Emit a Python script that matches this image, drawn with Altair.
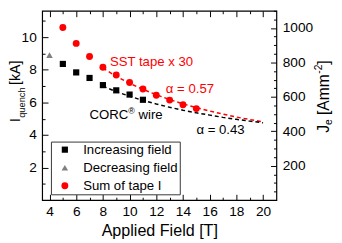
import altair as alt
import pandas as pd

FONT = "Liberation Sans"

# ---- data ----
field_inc = [5, 6, 7, 8, 9, 10, 11]
iq_inc = [8.36, 7.84, 7.50, 7.06, 6.74, 6.48, 6.16]

field_dec = [4]
iq_dec = [8.90]

field_sum = [5, 6, 7, 8, 9, 10, 11, 12, 13, 14, 15]
iq_sum = [10.60, 9.62, 8.82, 8.16, 7.68, 7.22, 6.82, 6.44, 6.14, 5.86, 5.62]

fit_field = [8, 9, 10, 11, 12, 13, 14, 15, 16, 17, 18, 19, 20]
fit_sst = [8.10, 7.60, 7.17, 6.80, 6.47, 6.17, 5.91, 5.68, 5.47, 5.28, 5.10, 4.95, 4.80]
fit_corc = [7.00, 6.66, 6.38, 6.12, 5.90, 5.70, 5.52, 5.36, 5.22, 5.08, 4.96, 4.85, 4.75]

series_names = ["Increasing field", "Decreasing field", "Sum of tape I"]
series_colors = ["#000000", "#808080", "#ff0000"]
series_shapes = ["square", "triangle-up", "circle"]

x_major = [4, 6, 8, 10, 12, 14, 16, 18, 20]
x_minor = [5, 7, 9, 11, 13, 15, 17, 19]
y_major = [2, 4, 6, 8, 10]
y_minor = [1, 3, 5, 7, 9, 11]
je_major = [200, 400, 600, 800, 1000]
je_minor = [50, 100, 150, 250, 300, 350, 450, 500, 550, 650, 700, 750, 850, 900, 950, 1050, 1100]

x_domain = [3.45, 21.0]
y_domain = [0, 11.62]
je_domain = [0, 1100]

W, H = 240, 194

pts = pd.DataFrame({
    "B": field_inc + field_dec + field_sum,
    "I": iq_inc + iq_dec + iq_sum,
    "series": [series_names[0]] * len(field_inc) + [series_names[1]] * len(field_dec)
    + [series_names[2]] * len(field_sum),
})
fits = pd.DataFrame({"B": fit_field, "sst": fit_sst, "corc": fit_corc})

xs = alt.Scale(domain=x_domain, nice=False, zero=False)
ys = alt.Scale(domain=y_domain, nice=False, zero=False)
js = alt.Scale(domain=je_domain, nice=False, zero=False)

def axis(orient, values, size, labels=False, **kw):
    return alt.Axis(orient=orient, values=values, tickSize=size, offset=-size,
                    domain=False, grid=False, labels=labels, tickColor="black",
                    tickWidth=1, labelFont=FONT, labelFontSize=14, format="d",
                    labelColor="black", labelFlush=False, labelOverlap=False, **kw)

# fit lines
line_sst = alt.Chart(fits).mark_line(color="#ff0000", strokeDash=[4, 3], strokeWidth=1.5).encode(
    x=alt.X("B:Q", scale=xs, axis=None), y=alt.Y("sst:Q", scale=ys, axis=None))
line_corc = alt.Chart(fits).mark_line(color="#000000", strokeDash=[4, 3], strokeWidth=1.5).encode(
    x=alt.X("B:Q", scale=xs, axis=None), y=alt.Y("corc:Q", scale=ys, axis=None))

points = alt.Chart(pts).mark_point(filled=True, opacity=1, strokeWidth=0).encode(
    x=alt.X("B:Q", scale=xs, axis=axis("bottom", x_major, 6, labels=True, labelPadding=5,
                                       title="Applied Field [T]", titleFont=FONT,
                                       titleFontSize=16.5, titleFontWeight="normal",
                                       titleColor="black", titlePadding=4)),
    y=alt.Y("I:Q", scale=ys, axis=axis("left", y_major, 6, labels=True, labelPadding=6, title=None)),
    color=alt.Color("series:N", scale=alt.Scale(domain=series_names, range=series_colors),
                    legend=alt.Legend(title=None, orient="none", legendX=9, legendY=134,
                                      padding=1.5, rowPadding=3.5, strokeColor="#333333",
                                      fillColor="white", labelFont=FONT, labelFontSize=13.5,
                                      labelColor="black", symbolOffset=6, labelOffset=12,
                                      symbolSize=45, symbolStrokeWidth=0)),
    shape=alt.Shape("series:N", scale=alt.Scale(domain=series_names, range=series_shapes),
                    legend=None),
    size=alt.Size("series:N", scale=alt.Scale(domain=series_names, range=[40, 50, 64]), legend=None),
)

ghost = alt.Chart(pts).mark_point(opacity=0)
ax_minor = ghost.encode(
    x=alt.X("B:Q", scale=xs, axis=axis("bottom", x_minor, 3, title=None)),
    y=alt.Y("I:Q", scale=ys, axis=axis("left", y_minor, 3, title=None)))
ax_right = ghost.encode(
    x=alt.X("B:Q", scale=xs, axis=axis("top", x_major, 6, title=None)),
    y=alt.Y("I:Q", scale=js, axis=axis("right", je_major, 6, labels=True, labelPadding=6, title=None)))
ax_right_minor = ghost.encode(
    x=alt.X("B:Q", scale=xs, axis=axis("top", x_minor, 3, title=None)),
    y=alt.Y("I:Q", scale=js, axis=axis("right", je_minor, 3, title=None)))

one = pd.DataFrame({"k": [0]})

def txt(s, x, y, size, color="black", angle=0):
    kw = {}
    if angle:
        kw["angle"] = angle
    return alt.Chart(one).mark_text(text=s, font=FONT, fontSize=size, color=color,
                                    align="left", baseline="alphabetic", **kw).encode(
        x=alt.value(x), y=alt.value(y))

labels = [
    txt("SST tape x 30", 69.4, 57, 13.5, "#ff0000"),
    txt("α = 0.57", 126.7, 84, 13.5, "#ff0000"),
    txt("CORC", 48.4, 110.5, 13.5),
    txt("®", 88.3, 105.5, 9),
    txt("wire", 98.7, 110.5, 13.5),
    txt("α = 0.43", 158, 126, 13.5),
    txt("c", 123.5, 183.5, 9),
    # left title  I_quench [kA]
    txt("I", -22.5, 114, 14.5, angle=270),
    txt("quench", -17.5, 109.6, 9.5, angle=270),
    txt("[kA]", -22.5, 76, 14.5, angle=270),
    # right title  J_e [Amm^-2]
    txt("J", 293.7, 125, 16, angle=270),
    txt("e", 296.7, 117, 10.5, angle=270),
    txt("[Amm", 293.7, 106.8, 16, angle=270),
    txt("-2", 286.7, 64.5, 10.5, angle=270),
    txt("]", 293.7, 55.2, 16, angle=270),
]

chart = alt.layer(line_sst, line_corc, points, ax_minor, ax_right, ax_right_minor, *labels).resolve_scale(
    x="independent", y="independent", color="independent", shape="independent", size="independent"
).properties(
    width=W, height=H,
    autosize=alt.AutoSizeParams(type="none"),
    padding={"left": 35, "top": 0, "right": 59, "bottom": 41},
).configure_view(stroke="black", strokeWidth=1.2)

chart.save("out.html", embed_options={"renderer": "svg", "actions": False})
